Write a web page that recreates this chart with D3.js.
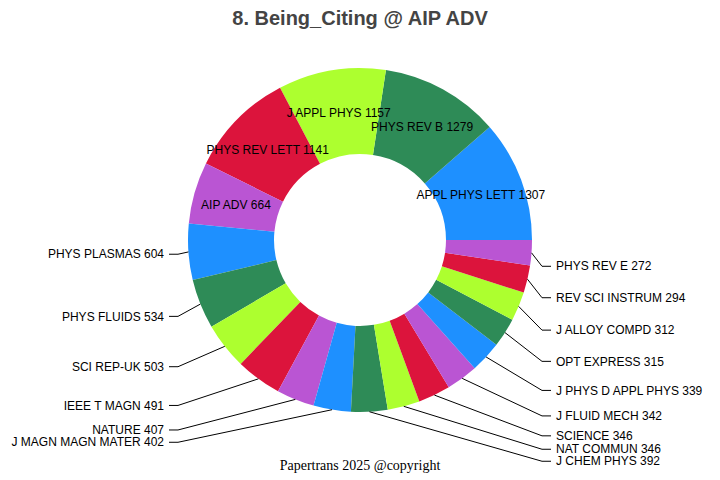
<!DOCTYPE html>
<html><head><meta charset="utf-8">
<script src="https://cdn.jsdelivr.net/npm/d3@7"></script>
<style>body{margin:0;background:#fff;}svg{display:block;}</style>
</head><body>
<script>
const categories = ["APPL PHYS LETT","PHYS REV B","J APPL PHYS","PHYS REV LETT","AIP ADV","PHYS PLASMAS","PHYS FLUIDS","SCI REP-UK","IEEE T MAGN","NATURE","J MAGN MAGN MATER","J CHEM PHYS","NAT COMMUN","SCIENCE","J FLUID MECH","J PHYS D APPL PHYS","OPT EXPRESS","J ALLOY COMPD","REV SCI INSTRUM","PHYS REV E"];
const values = [1307,1279,1157,1141,664,604,534,503,491,407,402,392,346,346,342,339,315,312,294,272];
const palette = ["#1E90FF","#2E8B57","#ADFF2F","#DC143C","#BA55D3"];
const title = "8. Being_Citing @ AIP ADV";
const footer = "Papertrans 2025 @copyright";

const W = 720, H = 480, cx = 360, cy = 240, rOut = 172, rIn = 86;
const insideMin = 620;

const svg = d3.select("body").append("svg").attr("width", W).attr("height", H);
svg.append("text").attr("x", cx).attr("y", 25).attr("text-anchor", "middle")
  .attr("font-family", "Liberation Sans, Arial, sans-serif").attr("font-weight", "bold")
  .attr("font-size", 20).attr("fill", "#444").text(title);

const data = categories.map((c, i) => ({name: c, value: values[i], i}));
const pie = d3.pie().value(d => d.value).sort(null).startAngle(Math.PI / 2).endAngle(Math.PI / 2 - 2 * Math.PI);
const arcs = pie(data);
const arc = d3.arc().innerRadius(rIn).outerRadius(rOut);
const color = d3.scaleOrdinal().domain(d3.range(palette.length)).range(palette);

const g = svg.append("g").attr("transform", `translate(${cx},${cy})`);
g.selectAll("path.slice").data(arcs).enter().append("path")
  .attr("d", arc).attr("fill", d => color(d.index % palette.length));

const font = "Liberation Sans, Arial, sans-serif";
g.selectAll("text.in").data(arcs.filter(d => d.data.value > insideMin)).enter().append("text")
  .attr("transform", d => `translate(${arc.centroid(d)})`)
  .attr("text-anchor", "middle").attr("dy", "0.35em")
  .attr("font-family", font).attr("font-size", 12).attr("fill", "#000")
  .text(d => d.data.name + " " + d.data.value);

// outside labels
const rLab = 205, elbowX = 182, endX = 191, textX = 196, gap = 12, rightShift = 11;
const outs = arcs.filter(d => d.data.value <= insideMin).map(d => {
  const a = (d.startAngle + d.endAngle) / 2;
  const right = Math.sin(a) > 0;
  return {d, a, right, y: -rLab * Math.cos(a) + (right ? rightShift : 0)};
});
["right", "left"].forEach(side => {
  const grp = outs.filter(o => (side === "right") === o.right).sort((p, q) => p.y - q.y);
  for (let k = 1; k < grp.length; k++) if (grp[k].y < grp[k - 1].y + gap) grp[k].y = grp[k - 1].y + gap;
});
outs.forEach(o => {
  const s = o.right ? 1 : -1;
  const p0 = [rOut * Math.sin(o.a), -rOut * Math.cos(o.a)];
  g.append("polyline").attr("points", [p0, [s * elbowX, o.y], [s * endX, o.y]].map(p => p.join(",")).join(" "))
    .attr("fill", "none").attr("stroke", "#000").attr("stroke-width", 1);
  g.append("text").attr("x", s * textX).attr("y", o.y).attr("dy", "0.35em")
    .attr("text-anchor", o.right ? "start" : "end")
    .attr("font-family", font).attr("font-size", 12).attr("fill", "#000")
    .text(o.d.data.name + " " + o.d.data.value);
});

svg.append("text").attr("x", cx).attr("y", 470).attr("text-anchor", "middle")
  .attr("font-family", "Liberation Serif, Times New Roman, serif").attr("font-size", 14)
  .attr("fill", "#000").text(footer);
</script>
</body></html>
